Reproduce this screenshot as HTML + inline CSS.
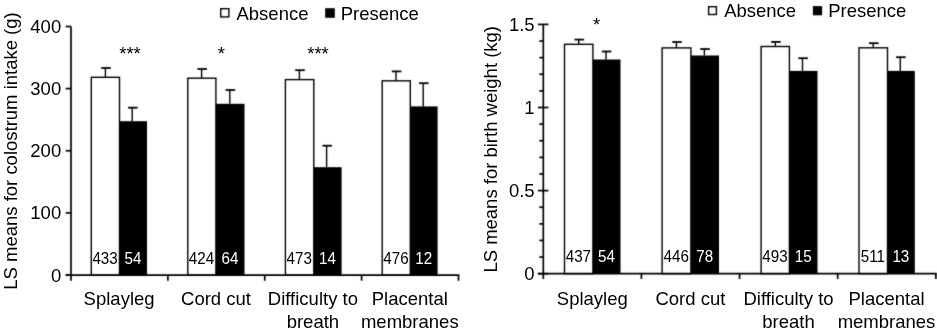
<!DOCTYPE html>
<html><head><meta charset="utf-8"><style>
html,body{margin:0;padding:0;background:#fff;width:937px;height:332px;overflow:hidden}
svg{display:block;filter:grayscale(1);font-family:"Liberation Sans",sans-serif}
</style></head><body>
<svg width="937" height="332" viewBox="0 0 937 332">
<defs><filter id="b" x="0" y="0" width="100%" height="100%" color-interpolation-filters="sRGB"><feConvolveMatrix order="3" kernelMatrix="1 6 1 6 36 6 1 6 1" edgeMode="duplicate"/></filter></defs>
<g filter="url(#b)">
<rect width="937" height="332" fill="#fff"/>
<rect x="119.5" y="121.2" width="27.5" height="153.95" fill="#000"/>
<rect x="91.3" y="77.3" width="28.2" height="197.85" fill="#fff" stroke="#000" stroke-width="1.4"/>
<line x1="105.4" y1="77.3" x2="105.4" y2="68" stroke="#000" stroke-width="1.4"/>
<line x1="101.2" y1="68" x2="110.8" y2="68" stroke="#000" stroke-width="1.8"/>
<line x1="132.2" y1="121.2" x2="132.2" y2="107.7" stroke="#000" stroke-width="1.4"/>
<line x1="128" y1="107.7" x2="137.6" y2="107.7" stroke="#000" stroke-width="1.8"/>
<rect x="215.9" y="103.8" width="28.6" height="171.35" fill="#000"/>
<rect x="187.8" y="78.2" width="28.1" height="196.95" fill="#fff" stroke="#000" stroke-width="1.4"/>
<line x1="201.6" y1="78.2" x2="201.6" y2="69" stroke="#000" stroke-width="1.4"/>
<line x1="197.4" y1="69" x2="207" y2="69" stroke="#000" stroke-width="1.8"/>
<line x1="229.8" y1="103.8" x2="229.8" y2="90" stroke="#000" stroke-width="1.4"/>
<line x1="225.6" y1="90" x2="235.2" y2="90" stroke="#000" stroke-width="1.8"/>
<rect x="313.8" y="167.2" width="27.8" height="107.95" fill="#000"/>
<rect x="285.4" y="79.6" width="28.4" height="195.55" fill="#fff" stroke="#000" stroke-width="1.4"/>
<line x1="299.4" y1="79.6" x2="299.4" y2="70.2" stroke="#000" stroke-width="1.4"/>
<line x1="295.2" y1="70.2" x2="304.8" y2="70.2" stroke="#000" stroke-width="1.8"/>
<line x1="326.6" y1="167.2" x2="326.6" y2="145.7" stroke="#000" stroke-width="1.4"/>
<line x1="322.4" y1="145.7" x2="332" y2="145.7" stroke="#000" stroke-width="1.8"/>
<rect x="410.3" y="106.4" width="27.3" height="168.75" fill="#000"/>
<rect x="382.2" y="80.8" width="28.1" height="194.35" fill="#fff" stroke="#000" stroke-width="1.4"/>
<line x1="396" y1="80.8" x2="396" y2="71.4" stroke="#000" stroke-width="1.4"/>
<line x1="391.8" y1="71.4" x2="401.4" y2="71.4" stroke="#000" stroke-width="1.8"/>
<line x1="423.2" y1="106.4" x2="423.2" y2="83.2" stroke="#000" stroke-width="1.4"/>
<line x1="419" y1="83.2" x2="428.6" y2="83.2" stroke="#000" stroke-width="1.8"/>
<line x1="71" y1="26.5" x2="71" y2="280.75" stroke="#000" stroke-width="1.7"/>
<line x1="65.7" y1="275.15" x2="459.35" y2="275.15" stroke="#000" stroke-width="1.7"/>
<line x1="167.88" y1="275.15" x2="167.88" y2="280.75" stroke="#000" stroke-width="1.7"/>
<line x1="264.75" y1="275.15" x2="264.75" y2="280.75" stroke="#000" stroke-width="1.7"/>
<line x1="361.62" y1="275.15" x2="361.62" y2="280.75" stroke="#000" stroke-width="1.7"/>
<line x1="458.5" y1="275.15" x2="458.5" y2="280.75" stroke="#000" stroke-width="1.7"/>
<line x1="65.7" y1="26.5" x2="71" y2="26.5" stroke="#000" stroke-width="1.7"/>
<line x1="65.7" y1="88.62" x2="71" y2="88.62" stroke="#000" stroke-width="1.7"/>
<line x1="65.7" y1="150.75" x2="71" y2="150.75" stroke="#000" stroke-width="1.7"/>
<line x1="65.7" y1="212.88" x2="71" y2="212.88" stroke="#000" stroke-width="1.7"/>
<line x1="65.7" y1="275" x2="71" y2="275" stroke="#000" stroke-width="1.7"/>
<rect x="220.7" y="8.7" width="8.2" height="8.2" fill="#fff" stroke="#000" stroke-width="1.4"/>
<rect x="325.2" y="8.2" width="9.6" height="9.6" fill="#000"/>
<rect x="592.9" y="59.5" width="27.6" height="214.2" fill="#000"/>
<rect x="564.5" y="44.3" width="28.4" height="229.4" fill="#fff" stroke="#000" stroke-width="1.4"/>
<line x1="578.7" y1="44.3" x2="578.7" y2="39.6" stroke="#000" stroke-width="1.4"/>
<line x1="574.5" y1="39.6" x2="584.1" y2="39.6" stroke="#000" stroke-width="1.8"/>
<line x1="606" y1="59.5" x2="606" y2="51.5" stroke="#000" stroke-width="1.4"/>
<line x1="601.8" y1="51.5" x2="611.4" y2="51.5" stroke="#000" stroke-width="1.8"/>
<rect x="690.9" y="55.5" width="28.1" height="218.2" fill="#000"/>
<rect x="662.1" y="47.9" width="28.8" height="225.8" fill="#fff" stroke="#000" stroke-width="1.4"/>
<line x1="676.4" y1="47.9" x2="676.4" y2="42" stroke="#000" stroke-width="1.4"/>
<line x1="672.2" y1="42" x2="681.8" y2="42" stroke="#000" stroke-width="1.8"/>
<line x1="704.4" y1="55.5" x2="704.4" y2="49" stroke="#000" stroke-width="1.4"/>
<line x1="700.2" y1="49" x2="709.8" y2="49" stroke="#000" stroke-width="1.8"/>
<rect x="789.4" y="70.9" width="28.1" height="202.8" fill="#000"/>
<rect x="761.1" y="46.5" width="28.3" height="227.2" fill="#fff" stroke="#000" stroke-width="1.4"/>
<line x1="775.3" y1="46.5" x2="775.3" y2="41.9" stroke="#000" stroke-width="1.4"/>
<line x1="771.1" y1="41.9" x2="780.7" y2="41.9" stroke="#000" stroke-width="1.8"/>
<line x1="802.5" y1="70.9" x2="802.5" y2="58.2" stroke="#000" stroke-width="1.4"/>
<line x1="798.3" y1="58.2" x2="807.9" y2="58.2" stroke="#000" stroke-width="1.8"/>
<rect x="887.5" y="70.9" width="27.3" height="202.8" fill="#000"/>
<rect x="859" y="47.8" width="28.5" height="225.9" fill="#fff" stroke="#000" stroke-width="1.4"/>
<line x1="873.2" y1="47.8" x2="873.2" y2="43.2" stroke="#000" stroke-width="1.4"/>
<line x1="869" y1="43.2" x2="878.6" y2="43.2" stroke="#000" stroke-width="1.8"/>
<line x1="900.3" y1="70.9" x2="900.3" y2="57.2" stroke="#000" stroke-width="1.4"/>
<line x1="896.1" y1="57.2" x2="905.7" y2="57.2" stroke="#000" stroke-width="1.8"/>
<line x1="543.3" y1="24.4" x2="543.3" y2="279" stroke="#000" stroke-width="1.7"/>
<line x1="537.9" y1="273.7" x2="936.65" y2="273.7" stroke="#000" stroke-width="1.7"/>
<line x1="641.42" y1="273.7" x2="641.42" y2="279" stroke="#000" stroke-width="1.7"/>
<line x1="739.55" y1="273.7" x2="739.55" y2="279" stroke="#000" stroke-width="1.7"/>
<line x1="837.67" y1="273.7" x2="837.67" y2="279" stroke="#000" stroke-width="1.7"/>
<line x1="935.8" y1="273.7" x2="935.8" y2="279" stroke="#000" stroke-width="1.7"/>
<line x1="537.9" y1="24.4" x2="548.5" y2="24.4" stroke="#000" stroke-width="1.7"/>
<line x1="537.9" y1="107.5" x2="548.5" y2="107.5" stroke="#000" stroke-width="1.7"/>
<line x1="537.9" y1="190.6" x2="548.5" y2="190.6" stroke="#000" stroke-width="1.7"/>
<line x1="537.9" y1="273.7" x2="548.5" y2="273.7" stroke="#000" stroke-width="1.7"/>
<line x1="539.3" y1="257.08" x2="543.3" y2="257.08" stroke="#000" stroke-width="1.7"/>
<line x1="539.3" y1="240.46" x2="543.3" y2="240.46" stroke="#000" stroke-width="1.7"/>
<line x1="539.3" y1="223.84" x2="543.3" y2="223.84" stroke="#000" stroke-width="1.7"/>
<line x1="539.3" y1="207.22" x2="543.3" y2="207.22" stroke="#000" stroke-width="1.7"/>
<line x1="539.3" y1="173.98" x2="543.3" y2="173.98" stroke="#000" stroke-width="1.7"/>
<line x1="539.3" y1="157.36" x2="543.3" y2="157.36" stroke="#000" stroke-width="1.7"/>
<line x1="539.3" y1="140.74" x2="543.3" y2="140.74" stroke="#000" stroke-width="1.7"/>
<line x1="539.3" y1="124.12" x2="543.3" y2="124.12" stroke="#000" stroke-width="1.7"/>
<line x1="539.3" y1="90.88" x2="543.3" y2="90.88" stroke="#000" stroke-width="1.7"/>
<line x1="539.3" y1="74.26" x2="543.3" y2="74.26" stroke="#000" stroke-width="1.7"/>
<line x1="539.3" y1="57.64" x2="543.3" y2="57.64" stroke="#000" stroke-width="1.7"/>
<line x1="539.3" y1="41.02" x2="543.3" y2="41.02" stroke="#000" stroke-width="1.7"/>
<rect x="708.6" y="6.7" width="7.8" height="7.8" fill="#fff" stroke="#000" stroke-width="1.4"/>
<rect x="812.9" y="6.1" width="9.2" height="9.2" fill="#000"/>
</g>
<text x="0" y="0" text-anchor="middle" font-size="15.2" fill="#000" transform="translate(105.1,264) scale(1,1.065)">433</text>
<text x="0" y="0" text-anchor="middle" font-size="15.2" fill="#fff" transform="translate(132.95,264) scale(1,1.065)">54</text>
<text x="130" y="59.5" text-anchor="middle" font-size="18.5" fill="#000">***</text>
<text x="119.1" y="305.1" text-anchor="middle" font-size="18.5" fill="#000">Splayleg</text>
<text x="0" y="0" text-anchor="middle" font-size="15.2" fill="#000" transform="translate(201.55,264) scale(1,1.065)">424</text>
<text x="0" y="0" text-anchor="middle" font-size="15.2" fill="#fff" transform="translate(229.9,264) scale(1,1.065)">64</text>
<text x="221.4" y="59.5" text-anchor="middle" font-size="18.5" fill="#000">*</text>
<text x="216" y="305.1" text-anchor="middle" font-size="18.5" fill="#000">Cord cut</text>
<text x="0" y="0" text-anchor="middle" font-size="15.2" fill="#000" transform="translate(299.3,264) scale(1,1.065)">473</text>
<text x="0" y="0" text-anchor="middle" font-size="15.2" fill="#fff" transform="translate(327.4,264) scale(1,1.065)">14</text>
<text x="318" y="59.5" text-anchor="middle" font-size="18.5" fill="#000">***</text>
<text x="312.9" y="305.1" text-anchor="middle" font-size="18.5" fill="#000">Difficulty to</text>
<text x="312.9" y="327.6" text-anchor="middle" font-size="18.5" fill="#000">breath</text>
<text x="0" y="0" text-anchor="middle" font-size="15.2" fill="#000" transform="translate(395.95,264) scale(1,1.065)">476</text>
<text x="0" y="0" text-anchor="middle" font-size="15.2" fill="#fff" transform="translate(423.65,264) scale(1,1.065)">12</text>
<text x="409.8" y="305.1" text-anchor="middle" font-size="18.5" fill="#000">Placental</text>
<text x="409.8" y="327.6" text-anchor="middle" font-size="18.5" fill="#000">membranes</text>
<text x="61.2" y="33.1" text-anchor="end" font-size="18.5" fill="#000">400</text>
<text x="61.2" y="95.22" text-anchor="end" font-size="18.5" fill="#000">300</text>
<text x="61.2" y="157.35" text-anchor="end" font-size="18.5" fill="#000">200</text>
<text x="61.2" y="219.47" text-anchor="end" font-size="18.5" fill="#000">100</text>
<text x="61.2" y="281.6" text-anchor="end" font-size="18.5" fill="#000">0</text>
<text x="0" y="0" text-anchor="middle" font-size="18.5" transform="translate(17,151) rotate(-90) scale(1,1.03)">LS means for colostrum intake (g)</text>
<text x="0" y="0" text-anchor="start" font-size="18.5" fill="#000" transform="translate(236.5,19.7) scale(1,1.03)">Absence</text>
<text x="0" y="0" text-anchor="start" font-size="18.5" fill="#000" transform="translate(340.7,19.7) scale(1,1.03)">Presence</text>
<text x="0" y="0" text-anchor="middle" font-size="15.2" fill="#000" transform="translate(578.4,262.1) scale(1,1.065)">437</text>
<text x="0" y="0" text-anchor="middle" font-size="15.2" fill="#fff" transform="translate(606.4,262.1) scale(1,1.065)">54</text>
<text x="596.5" y="30.7" text-anchor="middle" font-size="18.5" fill="#000">*</text>
<text x="592.3" y="305.3" text-anchor="middle" font-size="18.5" fill="#000">Splayleg</text>
<text x="0" y="0" text-anchor="middle" font-size="15.2" fill="#000" transform="translate(676.2,262.1) scale(1,1.065)">446</text>
<text x="0" y="0" text-anchor="middle" font-size="15.2" fill="#fff" transform="translate(704.65,262.1) scale(1,1.065)">78</text>
<text x="690.4" y="305.3" text-anchor="middle" font-size="18.5" fill="#000">Cord cut</text>
<text x="0" y="0" text-anchor="middle" font-size="15.2" fill="#000" transform="translate(774.95,262.1) scale(1,1.065)">493</text>
<text x="0" y="0" text-anchor="middle" font-size="15.2" fill="#fff" transform="translate(803.15,262.1) scale(1,1.065)">15</text>
<text x="788.5" y="305.3" text-anchor="middle" font-size="18.5" fill="#000">Difficulty to</text>
<text x="788.5" y="327.8" text-anchor="middle" font-size="18.5" fill="#000">breath</text>
<text x="0" y="0" text-anchor="middle" font-size="15.2" fill="#000" transform="translate(872.95,262.1) scale(1,1.065)">511</text>
<text x="0" y="0" text-anchor="middle" font-size="15.2" fill="#fff" transform="translate(900.85,262.1) scale(1,1.065)">13</text>
<text x="886.5" y="305.3" text-anchor="middle" font-size="18.5" fill="#000">Placental</text>
<text x="886.5" y="327.8" text-anchor="middle" font-size="18.5" fill="#000">membranes</text>
<text x="534.6" y="31" text-anchor="end" font-size="18.5" fill="#000">1.5</text>
<text x="534.6" y="114.1" text-anchor="end" font-size="18.5" fill="#000">1</text>
<text x="534.6" y="197.2" text-anchor="end" font-size="18.5" fill="#000">0.5</text>
<text x="534.6" y="280.3" text-anchor="end" font-size="18.5" fill="#000">0</text>
<text x="0" y="0" text-anchor="middle" font-size="18.5" transform="translate(497.1,149.3) rotate(-90) scale(1,1.03)">LS means for birth weight (kg)</text>
<text x="0" y="0" text-anchor="start" font-size="18.5" fill="#000" transform="translate(724.2,17) scale(1,1.03)">Absence</text>
<text x="0" y="0" text-anchor="start" font-size="18.5" fill="#000" transform="translate(828.2,17) scale(1,1.03)">Presence</text>
</svg>
</body></html>
